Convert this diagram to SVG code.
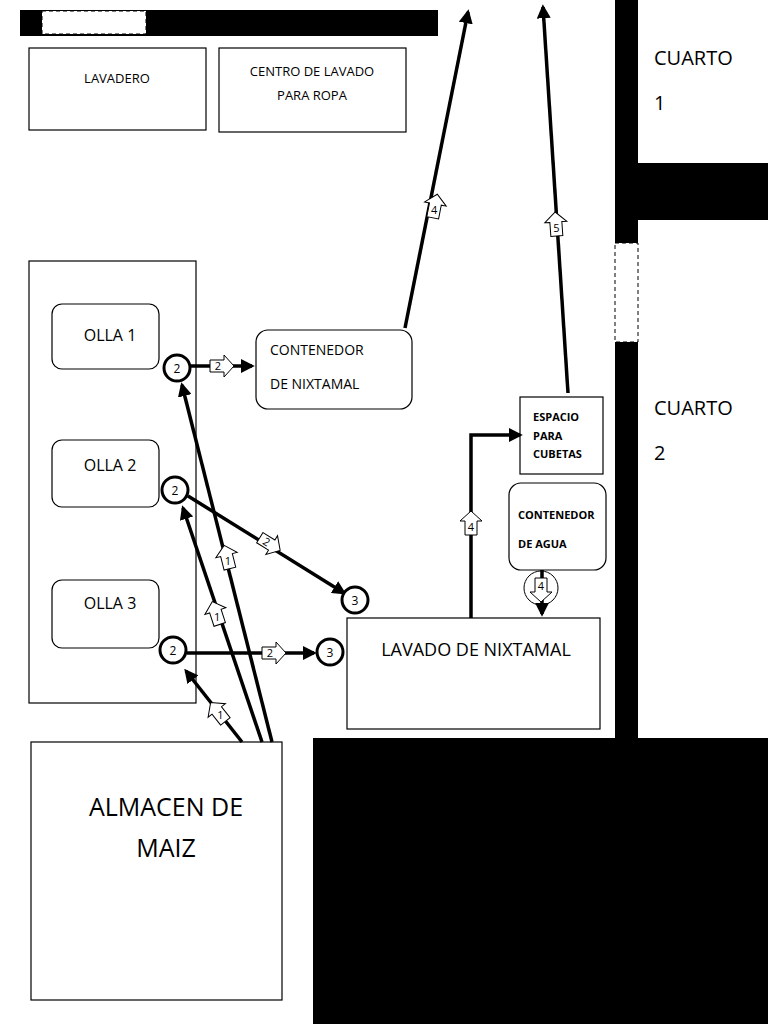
<svg xmlns="http://www.w3.org/2000/svg" width="768" height="1024" viewBox="0 0 768 1024">
<style>
.b{fill:#fff;stroke:#000;stroke-width:1.2}
.t{font-family:"Open Sans","Liberation Sans",sans-serif;fill:#000}
.ln{stroke:#000;stroke-width:3.5;fill:none}
.c{fill:#fff;stroke:#000;stroke-width:3}
.ba{fill:#fff;stroke:#000;stroke-width:1}
</style>
<defs>
<marker id="ah" viewBox="0 0 10 10" refX="8" refY="5" markerWidth="4" markerHeight="4" orient="auto"><path d="M0,0L10,5L0,10z" fill="#000"/></marker>
<polygon id="blk" points="-12,-6 2,-6 2,-11 12,0 2,11 2,6 -12,6"/>
</defs>
<rect width="768" height="1024" fill="#fff"/>
<g id="walls">
<rect x="20" y="10" width="418" height="26" fill="#000"/>
<rect x="42" y="11" width="104" height="23" fill="#fff" stroke="#000" stroke-dasharray="4,3"/>
<rect x="615" y="0" width="23" height="750" fill="#000"/>
<rect x="638" y="163" width="130" height="57" fill="#000"/>
<rect x="615" y="243" width="23" height="99" fill="#fff" stroke="#000" stroke-dasharray="4,3"/>
<rect x="313" y="738" width="455" height="286" fill="#000"/>
</g>
<g id="rooms">
<text class="t" x="654" y="65" font-size="20">CUARTO</text>
<text class="t" x="654" y="110" font-size="20">1</text>
<text class="t" x="654" y="415" font-size="20">CUARTO</text>
<text class="t" x="654" y="460" font-size="20">2</text>
</g>
<g id="lavadero"><rect class="b" x="29" y="48" width="177" height="82"/><text class="t" x="117" y="83" font-size="13" text-anchor="middle">LAVADERO</text></g>
<g id="centro"><rect class="b" x="219" y="48" width="187" height="84"/><text class="t" x="312" y="76" font-size="13" text-anchor="middle">CENTRO DE LAVADO</text><text class="t" x="312" y="100" font-size="13" text-anchor="middle">PARA ROPA</text></g>
<g id="ollas"><rect class="b" x="29" y="261" width="167" height="442"/></g>
<g id="olla1"><rect class="b" x="52" y="304" width="107" height="65" rx="10"/><text class="t" x="110" y="341" font-size="16" text-anchor="middle">OLLA 1</text></g>
<g id="olla2"><rect class="b" x="52" y="440" width="107" height="67" rx="10"/><text class="t" x="110" y="471" font-size="16" text-anchor="middle">OLLA 2</text></g>
<g id="olla3"><rect class="b" x="52" y="580" width="107" height="68" rx="10"/><text class="t" x="110" y="609" font-size="16" text-anchor="middle">OLLA  3</text></g>
<g id="cont-nix"><rect class="b" x="256" y="330" width="156" height="79" rx="12"/><text class="t" x="270" y="355" font-size="14">CONTENEDOR</text><text class="t" x="270" y="389" font-size="14">DE NIXTAMAL</text></g>
<g id="espacio"><rect class="b" x="520" y="397" width="83" height="77"/><text class="t" x="533" y="421" font-size="11" font-weight="bold">ESPACIO</text><text class="t" x="533" y="440" font-size="11" font-weight="bold">PARA</text><text class="t" x="533" y="458" font-size="11" font-weight="bold">CUBETAS</text></g>
<g id="cont-agua"><rect class="b" x="509" y="483" width="97" height="87" rx="12"/><text class="t" x="518" y="519" font-size="11" font-weight="bold">CONTENEDOR</text><text class="t" x="518" y="548" font-size="11" font-weight="bold">DE AGUA</text></g>
<g id="lavado"><rect class="b" x="347" y="618" width="253" height="111"/><text class="t" x="476" y="656" font-size="18" text-anchor="middle">LAVADO DE NIXTAMAL</text></g>
<g id="almacen"><rect class="b" x="31" y="742" width="251" height="258"/><text class="t" x="166" y="816" font-size="25" text-anchor="middle">ALMACEN DE</text><text class="t" x="166" y="857" font-size="25" text-anchor="middle">MAIZ</text></g>
<g id="connectors">
<line class="ln" x1="242" y1="742" x2="186" y2="671" marker-end="url(#ah)"/>
<line class="ln" x1="262" y1="742" x2="183" y2="508" marker-end="url(#ah)"/>
<line class="ln" x1="272" y1="742" x2="182" y2="385" marker-end="url(#ah)"/>
<line class="ln" x1="191" y1="366" x2="252" y2="366" marker-end="url(#ah)"/>
<line class="ln" x1="188" y1="496" x2="344" y2="593" stroke-width="2.5" marker-end="url(#ah)"/>
<line class="ln" x1="187" y1="653" x2="314" y2="653" marker-end="url(#ah)"/>
<line class="ln" x1="405" y1="328" x2="468" y2="12" marker-end="url(#ah)"/>
<line class="ln" x1="568" y1="393" x2="543" y2="7" marker-end="url(#ah)"/>
<polyline class="ln" points="471,618 471,435 520,435" marker-end="url(#ah)"/>
<line class="ln" x1="542" y1="570" x2="542" y2="614" marker-end="url(#ah)"/>
<circle cx="541" cy="588" r="17" fill="none" stroke="#000" stroke-width="1"/>
</g>
<g id="nodes-circ">
<circle class="c" cx="177" cy="368" r="13"/><text class="t" x="177" y="373" font-size="12" text-anchor="middle">2</text>
<circle class="c" cx="175" cy="490" r="13"/><text class="t" x="175" y="495" font-size="12" text-anchor="middle">2</text>
<circle class="c" cx="173" cy="650" r="13"/><text class="t" x="173" y="655" font-size="12" text-anchor="middle">2</text>
<circle class="c" cx="355" cy="600" r="13"/><text class="t" x="355" y="605" font-size="12" text-anchor="middle">3</text>
<circle class="c" cx="330" cy="652" r="13"/><text class="t" x="330" y="657" font-size="12" text-anchor="middle">3</text>
</g>
<g id="block-arrows">
<g transform="translate(222,366)"><use href="#blk" class="ba"/><text class="t" x="-4" y="4" font-size="11" text-anchor="middle">2</text></g>
<g transform="translate(270,544) rotate(32)"><use href="#blk" class="ba"/><text class="t" x="-4" y="4" font-size="11" text-anchor="middle">2</text></g>
<g transform="translate(274,653)"><use href="#blk" class="ba"/><text class="t" x="-4" y="4" font-size="11" text-anchor="middle">2</text></g>
<g transform="translate(218,712) rotate(-128)"><use href="#blk" class="ba"/><text class="t" x="-4" y="4" font-size="11" text-anchor="middle" transform="rotate(128 -4 0)">1</text></g>
<g transform="translate(216,613) rotate(-108)"><use href="#blk" class="ba"/><text class="t" x="-4" y="4" font-size="11" text-anchor="middle" transform="rotate(108 -4 0)">1</text></g>
<g transform="translate(227,557) rotate(-104)"><use href="#blk" class="ba"/><text class="t" x="-4" y="4" font-size="11" text-anchor="middle" transform="rotate(104 -4 0)">1</text></g>
<g transform="translate(435,206) rotate(-79)"><use href="#blk" class="ba"/><text class="t" x="-4" y="4" font-size="11" text-anchor="middle" transform="rotate(79 -4 0)">4</text></g>
<g transform="translate(556,224) rotate(-94)"><use href="#blk" class="ba"/><text class="t" x="-4" y="4" font-size="11" text-anchor="middle" transform="rotate(94 -4 0)">5</text></g>
<g transform="translate(471,523) rotate(-90)"><use href="#blk" class="ba"/><text class="t" x="-4" y="4" font-size="11" text-anchor="middle" transform="rotate(90 -4 0)">4</text></g>
<g transform="translate(541,590) rotate(90)"><use href="#blk" class="ba"/><text class="t" x="-4" y="4" font-size="11" text-anchor="middle" transform="rotate(-90 -4 0)">4</text></g>
</g>
</svg>
